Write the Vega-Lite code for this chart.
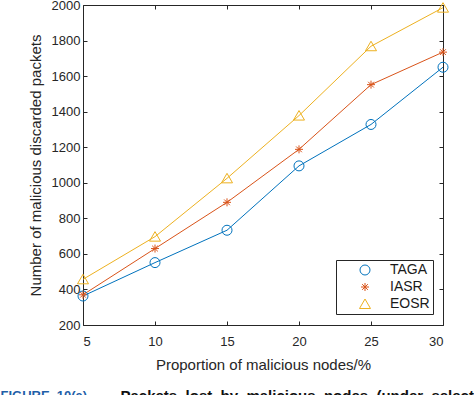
{
  "$schema": "https://vega.github.io/schema/vega-lite/v6.json",
  "autosize": "none",
  "width": 360,
  "height": 320,
  "padding": {"left": 83, "top": 5, "right": 31, "bottom": 70},
  "background": "white",
  "config": {
    "view": {"stroke": null},
    "font": "Liberation Sans",
    "axis": {
      "domainColor": "#262626",
      "tickColor": "#262626",
      "labelColor": "#262626",
      "titleColor": "#262626",
      "labelFont": "Liberation Sans",
      "titleFont": "Liberation Sans",
      "labelFontSize": 13,
      "titleFontSize": 15,
      "titleFontWeight": "normal",
      "grid": false,
      "tickSize": -4,
      "domainWidth": 1,
      "format": "d"
    }
  },
  "data": {
    "values": [
      {"p": 5, "v": 363, "s": "TAGA"},
      {"p": 10, "v": 551, "s": "TAGA"},
      {"p": 15, "v": 733, "s": "TAGA"},
      {"p": 20, "v": 1095, "s": "TAGA"},
      {"p": 25, "v": 1328, "s": "TAGA"},
      {"p": 30, "v": 1650, "s": "TAGA"},
      {"p": 5, "v": 370, "s": "IASR"},
      {"p": 10, "v": 630, "s": "IASR"},
      {"p": 15, "v": 890, "s": "IASR"},
      {"p": 20, "v": 1188, "s": "IASR"},
      {"p": 25, "v": 1552, "s": "IASR"},
      {"p": 30, "v": 1735, "s": "IASR"},
      {"p": 5, "v": 457, "s": "EOSR"},
      {"p": 10, "v": 697, "s": "EOSR"},
      {"p": 15, "v": 1025, "s": "EOSR"},
      {"p": 20, "v": 1378, "s": "EOSR"},
      {"p": 25, "v": 1768, "s": "EOSR"},
      {"p": 30, "v": 1985, "s": "EOSR"}
    ]
  },
  "layer": [
    {
      "mark": {"type": "line", "strokeWidth": 1},
      "encoding": {
        "x": {"field": "p", "type": "quantitative",
          "scale": {"domain": [5, 30], "nice": false, "zero": false},
          "axis": {"title": "Proportion of malicious nodes/%", "values": [5, 10, 15, 20, 25, 30], "labelPadding": 14, "titlePadding": 9}},
        "y": {"field": "v", "type": "quantitative",
          "scale": {"domain": [200, 2000], "nice": false, "zero": false},
          "axis": {"title": "Number of malicious discarded packets", "values": [200, 400, 600, 800, 1000, 1200, 1400, 1600, 1800, 2000], "labelPadding": 7, "titlePadding": 8}},
        "color": {
          "field": "s", "type": "nominal",
          "scale": {"domain": ["TAGA", "IASR", "EOSR"], "range": ["#0072BD", "#D95319", "#EDB120"]},
          "legend": {
            "title": null,
            "orient": "none",
            "legendX": 253,
            "legendY": 255,
            "strokeColor": "#262626",
            "fillColor": "white",
            "padding": 3,
            "labelFontSize": 14,
            "labelColor": "#1a1a1a",
            "labelFont": "Liberation Sans",
            "symbolSize": 100,
            "symbolOffset": 19,
            "labelOffset": 18,
            "rowPadding": 3,
            "symbolStrokeWidth": 1
          }
        }
      }
    },
    {
      "mark": {"type": "point", "filled": false, "strokeWidth": 1, "size": 100, "opacity": 1},
      "encoding": {
        "x": {"field": "p", "type": "quantitative", "axis": null},
        "y": {"field": "v", "type": "quantitative", "axis": null},
        "color": {
          "field": "s", "type": "nominal",
          "scale": {"domain": ["TAGA", "IASR", "EOSR"], "range": ["#0072BD", "#D95319", "#EDB120"]},
          "legend": {
            "title": null,
            "orient": "none",
            "legendX": 253,
            "legendY": 255,
            "strokeColor": "#262626",
            "fillColor": "white",
            "padding": 3,
            "labelFontSize": 14,
            "labelColor": "#1a1a1a",
            "labelFont": "Liberation Sans",
            "symbolSize": 100,
            "symbolOffset": 19,
            "labelOffset": 18,
            "rowPadding": 3,
            "symbolStrokeWidth": 1
          }
        },
        "shape": {
          "field": "s", "type": "nominal",
          "scale": {"domain": ["TAGA", "IASR", "EOSR"], "range": ["circle", "M-0.8,0L0.8,0M0,-0.8L0,0.8M-0.57,-0.57L0.57,0.57M-0.57,0.57L0.57,-0.57", "M0,-1L1.1,0.9L-1.1,0.9Z"]},
          "legend": null
        }
      }
    },
    {
      "mark": {"type": "point", "opacity": 0},
      "encoding": {
        "x": {"field": "p", "type": "quantitative",
          "axis": {"orient": "top", "title": null, "labels": false, "values": [5, 10, 15, 20, 25, 30]}},
        "y": {"field": "v", "type": "quantitative",
          "axis": {"orient": "right", "title": null, "labels": false, "values": [200, 400, 600, 800, 1000, 1200, 1400, 1600, 1800, 2000]}}
      }
    },
    {
      "mark": {"type": "point", "opacity": 0},
      "encoding": {
        "x": {"field": "p", "type": "quantitative",
          "axis": {"orient": "bottom", "offset": 45, "domain": false, "ticks": false, "labels": false,
            "title": "Packets\u00a0\u00a0lost\u00a0\u00a0by\u00a0\u00a0malicious\u00a0\u00a0nodes\u00a0\u00a0(under\u00a0\u00a0selective",
            "titleFontSize": 15, "titleFontWeight": "bold", "titleColor": "#111111",
            "titleAnchor": "start", "titleAlign": "left", "titleX": 37, "titlePadding": 18}},
        "y": {"field": "v", "type": "quantitative", "axis": null}
      }
    },
    {
      "mark": {"type": "point", "opacity": 0},
      "encoding": {
        "x": {"field": "p", "type": "quantitative",
          "axis": {"orient": "bottom", "offset": 45, "domain": false, "ticks": false, "labels": false,
            "title": "FIGURE\u00a0\u00a010(a).",
            "titleFontSize": 13, "titleFontWeight": "bold", "titleColor": "#1f5fa8",
            "titleAnchor": "start", "titleAlign": "left", "titleX": -83, "titlePadding": 19}},
        "y": {"field": "v", "type": "quantitative", "axis": null}
      }
    }
  ],
  "resolve": {"axis": {"x": "independent", "y": "independent"}}
}
